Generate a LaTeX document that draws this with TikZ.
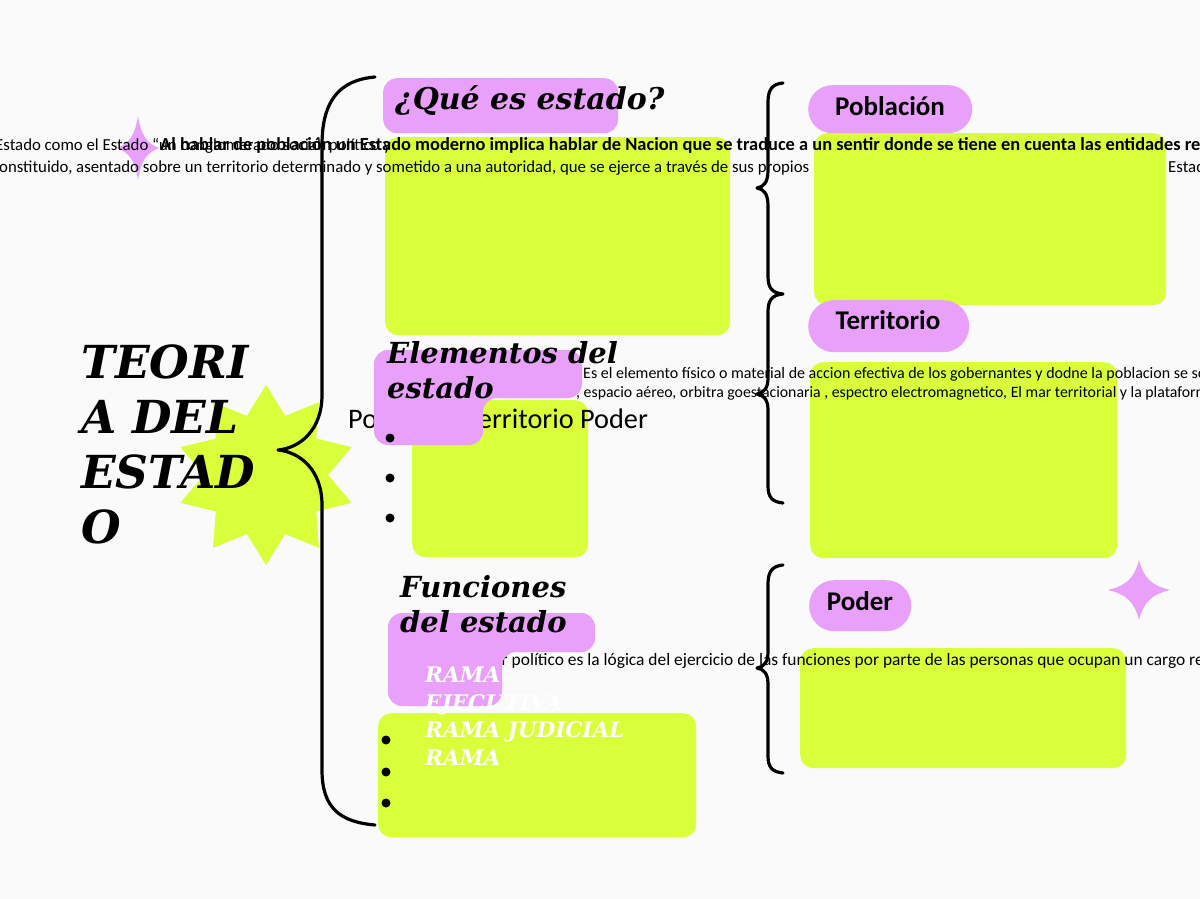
\documentclass[tikz,border=0pt]{standalone}
\usepackage{fontspec}
\setmainfont{Carlito}
\newfontfamily\ttlfont{DejaVu Serif}
\usetikzlibrary{shapes.geometric}
\definecolor{limeg}{RGB}{217,255,59}
\definecolor{pinkb}{RGB}{233,160,250}
\definecolor{bgc}{RGB}{250,250,250}
\begin{document}
\begin{tikzpicture}[x=1pt,y=-1pt,
  greenbox/.style={fill=limeg, rounded corners=13pt, inner sep=0pt, anchor=north west},
  pill/.style={fill=pinkb, inner sep=0pt, anchor=north west},
  pilltext/.style={font=\fontsize{27}{30}\selectfont\bfseries, inner sep=0pt},
  bracepath/.style={line width=3.2pt, line cap=round, line join=round},
  body/.style={inner sep=0pt, anchor=base west, font=\fontsize{16.8}{19}\selectfont},
  ttl/.style={inner sep=0pt, anchor=north west, align=left},
  dot/.style={circle, fill=black, inner sep=0pt, minimum size=9pt},
  sparkle/.pic={\fill[pinkb] (0,-1) .. controls (0.15,-0.4) and (0.4,-0.15) .. (1,0)
     .. controls (0.4,0.15) and (0.15,0.4) .. (0,1)
     .. controls (-0.15,0.4) and (-0.4,0.15) .. (-1,0)
     .. controls (-0.4,-0.15) and (-0.15,-0.4) .. (0,-1) -- cycle;}
]
\path[use as bounding box] (0,0) rectangle (1200,899);
\fill[bgc] (0,0) rectangle (1200,899);
\clip (0,0) rectangle (1200,899);

% sparkles and starburst
\pic[xscale=21,yscale=32] at (138,148) {sparkle};
\pic[xscale=31,yscale=30] at (1139,590) {sparkle};
\node[star, star points=10, star point ratio=1.45, minimum size=180pt, inner sep=0pt, fill=limeg] (burst) at (266,475) {};

% braces
\draw[bracepath] (375,77) .. controls (340,80) and (322,100) .. (322,145) -- (322,395)
  .. controls (322,430) and (300,448) .. (278,450)
  .. controls (300,452) and (322,470) .. (322,505) -- (322,770)
  .. controls (322,808) and (340,822) .. (375,825);
\draw[bracepath] (783,83) .. controls (772,84) and (768,90) .. (768,102) -- (768,170)
  .. controls (768,182) and (764,187) .. (757,188) .. controls (764,189) and (768,194) .. (768,206)
  -- (768,276) .. controls (768,288) and (772,293) .. (783,294)
  .. controls (772,295) and (768,300) .. (768,312) -- (768,378)
  .. controls (768,388) and (764,393) .. (757,394) .. controls (764,395) and (768,400) .. (768,410)
  -- (768,486) .. controls (768,497) and (772,502) .. (783,503);
\draw[bracepath] (783,565) .. controls (772,566) and (768,572) .. (768,584) -- (768,652)
  .. controls (768,662) and (764,667) .. (757,668) .. controls (764,669) and (768,674) .. (768,684)
  -- (768,756) .. controls (768,767) and (772,772) .. (783,773);

% green boxes
\node[greenbox, minimum width=345pt, minimum height=198pt] (g1) at (385,137) {};
\node[greenbox, minimum width=352pt, minimum height=172pt] (g2) at (814,133) {};
\node[greenbox, minimum width=307pt, minimum height=196pt] (g3) at (810,362) {};
\node[greenbox, minimum width=176pt, minimum height=157pt] (g4) at (412,400) {};
\node[greenbox, minimum width=318pt, minimum height=124pt] (g5) at (378,713) {};
\node[greenbox, minimum width=326pt, minimum height=120pt] (g6) at (800,648) {};

% pills
\node[pill, rounded corners=24pt, minimum width=164pt, minimum height=48pt] (pob) at (808,85) {};
\node[pilltext] (pobt) at (890,106) {Población};
\node[pill, rounded corners=26pt, minimum width=161pt, minimum height=52pt] (ter) at (808,300) {};
\node[pilltext] (tert) at (888,320) {Territorio};
\node[pill, rounded corners=25pt, minimum width=102pt, minimum height=51pt] (pod) at (809,580) {};
\node[pilltext] (podt) at (860,601) {Poder};

% body texts
\node[body] (ta1) at (-5,150) {Estado como el Estado “un conglomerado social, político y};
\node[body] (ta2) at (-8,172) {constituido, asentado sobre un territorio determinado y sometido a una autoridad, que se ejerce a través de sus propios};
\node[body, font=\fontsize{18.4}{20}\selectfont\bfseries] (tb1) at (160,150) {Al hablar de población un Estado moderno implica hablar de Nacion que se traduce a un sentir donde se tiene en cuenta las entidades religiosas};
\node[body] (ta3) at (1168,172) {Estado};
\node[body, font=\fontsize{16}{18}\selectfont] (te1) at (583,378) {Es el elemento físico o material de accion efectiva de los gobernantes y dodne la poblacion se sostiene};
\node[body, font=\fontsize{15.8}{18}\selectfont] (te2) at (576,397) {, espacio aéreo, orbitra goestacionaria , espectro electromagnetico, El mar territorial y la plataforma};
\node[body, font=\fontsize{28.3}{32}\selectfont] (tp) at (348,428) {Población Territorio Poder};
\node[body, font=\fontsize{17.4}{20}\selectfont] (tf) at (449,665) {El poder político es la lógica del ejercicio de las funciones por parte de las personas que ocupan un cargo representativo};

% pink title shapes
\fill[pinkb, rounded corners=14pt] (374,350) -- (582,350) -- (582,398) -- (483,398) -- (483,445) -- (374,445) -- cycle;
\fill[pinkb, rounded corners=14pt] (388,613) -- (595,613) -- (595,652) -- (502,652) -- (502,706) -- (388,706) -- cycle;
\node[pill, rounded corners=14pt, minimum width=235pt, minimum height=55pt] (que) at (383,78) {};

% titles
\node[inner sep=0pt, anchor=base west, font=\ttlfont\bfseries\itshape\fontsize{30}{36}\selectfont] (queT) at (395,110) {¿Qué es estado?};
\node[ttl, font=\ttlfont\bfseries\itshape\fontsize{29}{35}\selectfont] (elT) at (387,341) {Elementos del\\estado};
\node[ttl, font=\ttlfont\bfseries\itshape\fontsize{29}{35}\selectfont] (fuT) at (400,575) {Funciones\\del estado};
\node[ttl, font=\ttlfont\bfseries\itshape\fontsize{45.5}{55}\selectfont] (teoT) at (81,345) {TEORI\\A DEL\\ESTAD\\O};

% bullets
\node[dot] (b1) at (390,438) {};
\node[dot] (b2) at (390,478) {};
\node[dot] (b3) at (390,518) {};
\node[dot] (b4) at (386,740) {};
\node[dot] (b5) at (386,772) {};
\node[dot] (b6) at (386,803) {};

% ramas
\node[ttl, text=white, font=\ttlfont\bfseries\itshape\fontsize{21.5}{27.5}\selectfont] (rama) at (425,667) {RAMA\\EJECUTIVA\\RAMA JUDICIAL\\RAMA};
\end{tikzpicture}
\end{document}
